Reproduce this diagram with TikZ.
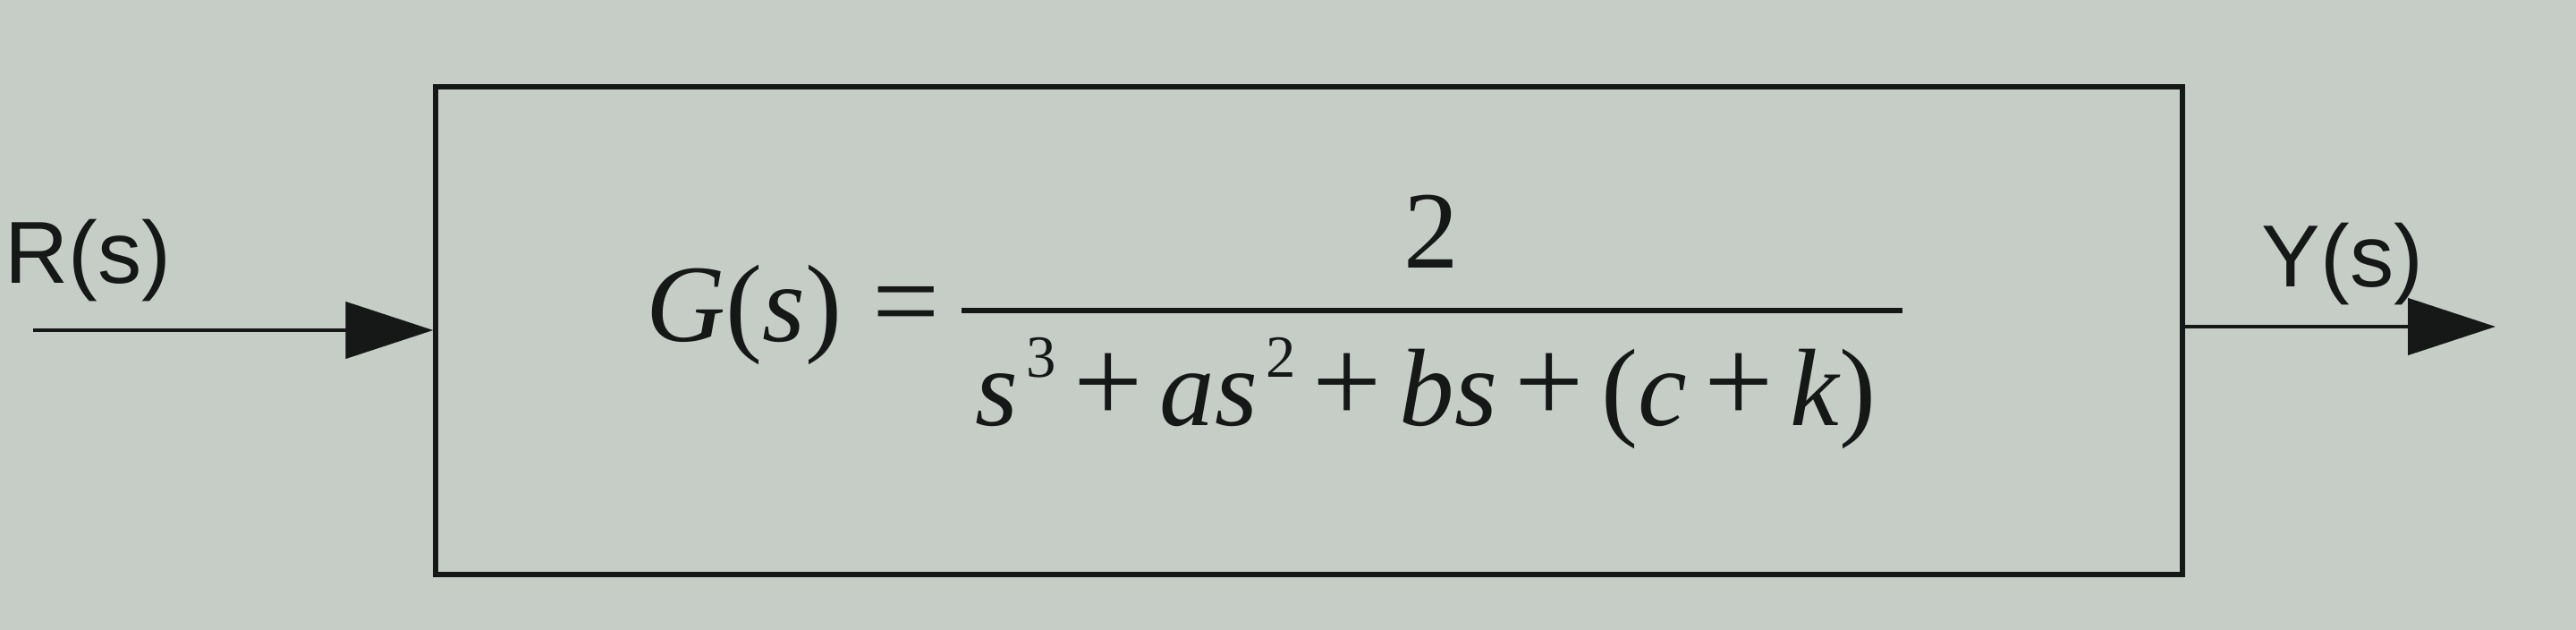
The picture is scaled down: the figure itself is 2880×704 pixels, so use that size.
\documentclass[tikz,border=0pt]{standalone}
\usepackage{amsmath}
\usepackage{fontspec}
\setmainfont{Liberation Serif}
\newfontfamily\arialfont{Liberation Sans}
\usetikzlibrary{arrows.meta}
\definecolor{bgcol}{RGB}{198,205,199}
\definecolor{ink}{RGB}{22,24,24}
\newcommand\mvar[1]{\text{\itshape #1}}
\newcommand\mrm[1]{\text{\upshape #1}}
\newcommand\msup[1]{\mathord{\kern2.5pt\raisebox{5.4mm}{\upshape\fontsize{19}{20}\selectfont #1}}}
\newcommand\mplus{\mathbin{\text{\raisebox{0.3mm}{\fontsize{39}{40}\selectfont +}}}}
\newcommand\meq{\mathrel{\text{\fontsize{38}{40}\selectfont =}}}
\tikzset{
  sig/.style={draw=ink, line width=0.45mm, -{Triangle[length=9.8mm,width=6.3mm]}},
  blockbox/.style={draw=ink, line width=0.55mm, inner sep=0, minimum width=195.3mm, minimum height=54.5mm},
  siglabel/.style={anchor=base west, inner sep=0, text=ink, font=\arialfont\fontsize{28}{34}\selectfont},
  formula/.style={inner sep=0, text=ink, font=\fontsize{35}{42}\selectfont},
  fracbar/.style={draw=ink, line width=0.65mm}
}
\begin{document}
\begin{tikzpicture}[x=0.1mm,y=-0.1mm]
\fill[bgcol] (0,0) rectangle (2880,704);
\useasboundingbox (0,0) rectangle (2880,704);
\node[blockbox] (blk) at (1463.5,369.5) {};
% G(s) =
\node[formula, anchor=base west] (lhs) at (722,381)
  {$\thickmuskip=7mu \mvar{G}\mrm{(}\mvar{s}\mrm{)} \meq$};
% numerator
\node[formula, anchor=base] (num) at (1600,300) {\mrm{2}};
% fraction bar
\coordinate (barL) at (1075,347);
\coordinate (barR) at (2127,347);
\draw[fracbar] (barL) -- (barR);
% denominator
\node[formula, anchor=base west] (den) at (1090,475)
  {$\medmuskip=4mu
   \mvar{s}\msup{3} \mplus \mvar{a}\mvar{s}\msup{2} \mplus \mvar{b}\mvar{s} \mplus \mrm{(}\mvar{c} \mplus \mvar{k}\mrm{)}$};
% signal labels
\node[siglabel] (rlab) at (5,317) {R(s)};
\node[siglabel] (ylab) at (2528,321) {Y(s)};
% connectors
\coordinate (rin) at (37,369);
\coordinate (yout) at (2790,365);
\draw[sig] (rin) -- (rin -| blk.west);
\draw[sig] (blk.east |- yout) -- (yout);
\end{tikzpicture}
\end{document}
